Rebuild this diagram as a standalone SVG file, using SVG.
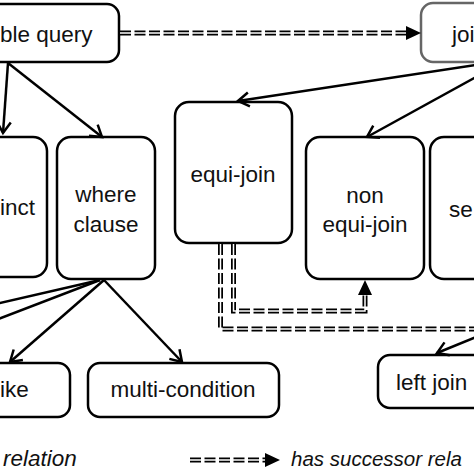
<svg xmlns="http://www.w3.org/2000/svg" width="474" height="474" viewBox="0 0 474 474">
<style>
.box{fill:#fff;stroke:#000;stroke-width:2.5}
.gray{stroke:#666}
text{font-family:"Liberation Sans",Arial,sans-serif;font-size:22.5px;fill:#111}
.c{text-anchor:middle}
.it{font-style:italic}
.sol{stroke:#000;stroke-width:2.5;fill:none}
.dd{stroke:#000;stroke-width:5;fill:none;stroke-dasharray:11 3.5}
.ddw{stroke:#fff;stroke-width:1.5;fill:none}
</style>
<defs>
<marker id="open" markerUnits="userSpaceOnUse" markerWidth="30" markerHeight="30" viewBox="-15 -15 30 30" refX="0" refY="0" orient="auto">
<path d="M-11,-7 L0,0 L-11,7" fill="none" stroke="#000" stroke-width="2.5"/>
</marker>
<marker id="tri" markerUnits="userSpaceOnUse" markerWidth="30" markerHeight="30" viewBox="-5 -15 30 30" refX="0" refY="0" orient="auto">
<path d="M0,-7 L15,0 L0,7 z" fill="#000"/>
</marker>
</defs>

<g id="n-query"><rect class="box" x="-20" y="4" width="139" height="58" rx="12"/><text x="0" y="42">ble query</text></g>
<g id="n-join"><rect class="box gray" x="421" y="3" width="80" height="59" rx="12"/><text x="452" y="42">joi</text></g>
<g id="n-distinct"><rect class="box" x="-30" y="137" width="77" height="140" rx="14"/><text x="0" y="215">inct</text></g>
<g id="n-where"><rect class="box" x="57" y="137" width="98" height="142" rx="14"/><text class="c" x="106" y="202">where</text><text class="c" x="106" y="232">clause</text></g>
<g id="n-equi"><rect class="box" x="175" y="102" width="117" height="141" rx="14"/><text class="c" x="233" y="182">equi-join</text></g>
<g id="n-nonequi"><rect class="box" x="306" y="137" width="118" height="142" rx="14"/><text class="c" x="365" y="203">non</text><text class="c" x="365" y="232">equi-join</text></g>
<g id="n-se"><rect class="box" x="430" y="137" width="80" height="142" rx="14"/><text x="449" y="217">se</text></g>
<g id="n-like"><rect class="box" x="-30" y="363" width="100" height="54" rx="12"/><text x="0" y="397">ike</text></g>
<g id="n-multi"><rect class="box" x="88" y="363" width="191" height="54" rx="12"/><text class="c" x="183" y="397">multi-condition</text></g>
<g id="n-left"><rect class="box" x="378" y="355" width="120" height="53" rx="12"/><text x="396" y="390">left join</text></g>

<g id="connectors">
<line class="sol" x1="8" y1="63" x2="3" y2="133" marker-end="url(#open)"/>
<line class="sol" x1="8" y1="63" x2="102" y2="137" marker-end="url(#open)"/>
<line class="sol" x1="476" y1="65" x2="238" y2="101" marker-end="url(#open)"/>
<line class="sol" x1="476" y1="77" x2="367" y2="137" marker-end="url(#open)"/>
<line class="sol" x1="104" y1="280" x2="10" y2="362" marker-end="url(#open)"/>
<line class="sol" x1="104" y1="280" x2="182" y2="362" marker-end="url(#open)"/>
<line class="sol" x1="100" y1="280" x2="-4" y2="304"/>
<line class="sol" x1="100" y1="280" x2="-4" y2="320"/>
<line class="sol" x1="476" y1="337" x2="437" y2="353" marker-end="url(#open)"/>

<path class="dd" d="M120,33 H406" marker-end="url(#tri)"/>
<path class="ddw" d="M120,33 H406"/>
<path class="dd" d="M233.5,244 V311 H365 V295" marker-end="url(#tri)"/>
<path class="ddw" d="M233.5,244 V311 H365 V295"/>
<path class="dd" d="M220.5,244 V329 H480"/>
<path class="ddw" d="M220.5,244 V329 H480"/>

<path class="dd" d="M190,460 H265" marker-end="url(#tri)"/>
<path class="ddw" d="M190,460 H265"/>
</g>

<text class="it" x="3" y="466">relation</text>
<text class="it" x="291" y="466" style="font-size:20.5px">has successor rela</text>
</svg>
